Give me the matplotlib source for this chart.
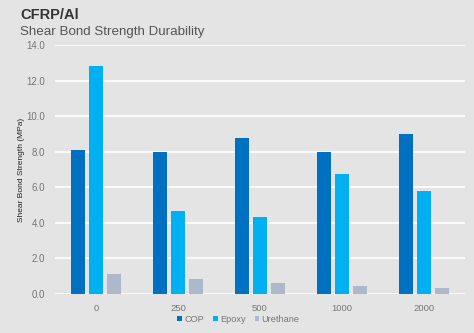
import matplotlib.pyplot as plt
import numpy as np

plt.rcParams['font.family'] = ['Liberation Sans', 'DejaVu Sans']

# 数据
hours = ["0", "250", "500", "1000", "2000"]
cop = [8.1, 8.0, 8.75, 8.0, 9.0]
epoxy = [12.8, 4.65, 4.35, 6.75, 5.8]
urethane = [1.1, 0.85, 0.62, 0.43, 0.32]

bg = "#e4e4e4"
fig = plt.figure(figsize=(4.74, 3.33), dpi=100, facecolor=bg)
ax = fig.add_axes([0.116, 0.117, 0.865, 0.748], facecolor=bg)

x = np.arange(len(hours))
w = 0.17
step = 0.22
ax.bar(x - step, cop, width=w, color="#0070c0", label="COP", zorder=3)
ax.bar(x, epoxy, width=w, color="#00b0f0", label="Epoxy", zorder=3)
ax.bar(x + step, urethane, width=w, color="#adb9ca", label="Urethane", zorder=3)

ax.set_xlim(-0.5, 4.5)
ax.set_ylim(0, 14)
ax.set_yticks(np.arange(0, 14.1, 2))
ax.set_yticklabels([f"{v:.1f}" for v in np.arange(0, 14.1, 2)])
ax.set_xticks(x)
ax.set_xticklabels(hours)
ax.grid(axis="y", color="white", linewidth=1.2, zorder=0)
for s in ax.spines.values():
    s.set_visible(False)
ax.tick_params(axis="y", length=0, labelsize=7, labelcolor="#767676", pad=7)
ax.tick_params(axis="x", length=0, labelsize=6.8, labelcolor="#767676", pad=7)
ax.set_ylabel("Shear Bond Strength (MPa)", fontsize=6, color="#222222", labelpad=1)

fig.text(0.042, 0.955, "CFRP/Al", fontsize=10.5, fontweight="bold", color="#333333", va="center")
fig.text(0.042, 0.905, "Shear Bond Strength Durability", fontsize=9.6, color="#555555", va="center")

fig.legend(loc="center", bbox_to_anchor=(0.503, 0.042), ncol=3, frameon=False,
           fontsize=6.6, handlelength=0.5, handleheight=0.5, handletextpad=0.25,
           columnspacing=1.0, labelcolor="#767676")

plt.savefig("out.png", dpi=100, facecolor=bg)
